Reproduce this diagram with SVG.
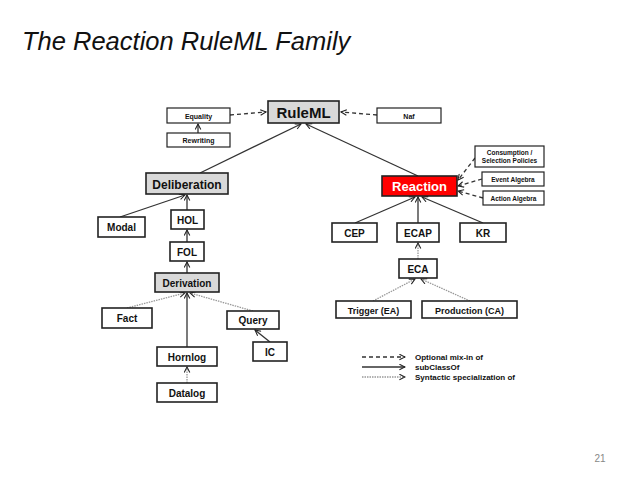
<svg xmlns="http://www.w3.org/2000/svg" width="638" height="478" viewBox="0 0 638 478">
<defs>
<marker id="a" viewBox="0 0 10 10" refX="9" refY="5" markerWidth="7" markerHeight="7" orient="auto" markerUnits="userSpaceOnUse"><path d="M1,1 L9,5 L1,9" fill="none" stroke="#222" stroke-width="1.5"/></marker>
</defs>
<style>
.b{fill:#fff;stroke:#222;stroke-width:1.6}
.g{fill:#d9d9d9;stroke:#222;stroke-width:1.6}
text{font-family:"Liberation Sans",Arial,sans-serif;font-weight:bold;text-anchor:middle;fill:#111}
.s{stroke:#333;stroke-width:1.3;fill:none;marker-end:url(#a)}
.d{stroke:#333;stroke-width:1.3;fill:none;stroke-dasharray:4,3;marker-end:url(#a)}
.o{stroke:#999;stroke-width:1.3;fill:none;stroke-dasharray:1.5,1;marker-end:url(#a)}
</style>
<rect width="638" height="478" fill="#fff"/>
<text x="22" y="50" style="font-weight:normal;font-style:italic;text-anchor:start;font-size:25.5px" fill="#111">The Reaction RuleML Family</text>
<text x="600" y="462" style="font-weight:normal;font-size:10px;fill:#888">21</text>
<g id="connectors">
<path class="s" d="M200,173 L301,124"/>
<path class="s" d="M418,176 L306,124"/>
<path class="d" d="M230,115 L266,112"/>
<path class="d" d="M377,115 L341,112"/>
<path class="s" d="M198,133 L198,124"/>
<path class="d" d="M475,158 L458,180"/>
<path class="d" d="M482,179 L458,186"/>
<path class="d" d="M483,198 L458,191"/>
<path class="s" d="M120,217 L185,195"/>
<path class="s" d="M187,210 L187,195"/>
<path class="s" d="M187,242 L187,230"/>
<path class="s" d="M187,273 L187,262"/>
<path class="o" d="M127,308 L185,293"/>
<path class="o" d="M253,311 L190,293"/>
<path class="s" d="M187,347 L187,293"/>
<path class="o" d="M187,383 L187,367"/>
<path class="s" d="M270,342 L255,330"/>
<path class="s" d="M355,223 L415,197"/>
<path class="s" d="M418,223 L418,197"/>
<path class="s" d="M483,223 L422,197"/>
<path class="o" d="M418,259 L418,243"/>
<path class="o" d="M373,301 L415,279"/>
<path class="o" d="M470,301 L421,279"/>
</g>
<g id="RuleML"><rect class="g" x="268" y="101" width="71" height="22"/><text x="303.5" y="118" font-size="15">RuleML</text></g>
<g id="Equality"><rect class="b" x="167" y="108" width="63" height="15" style="stroke-width:1.2"/><text x="198.5" y="119" font-size="7">Equality</text></g>
<g id="Rewriting"><rect class="b" x="167" y="133" width="63" height="14" style="stroke-width:1.2"/><text x="198.5" y="143" font-size="7">Rewriting</text></g>
<g id="Naf"><rect class="b" x="377" y="108" width="64" height="15" style="stroke-width:1.2"/><text x="409" y="119" font-size="7">Naf</text></g>
<g id="Deliberation"><rect class="g" x="146" y="173" width="82" height="21"/><text x="187" y="189" font-size="12">Deliberation</text></g>
<g id="Reaction"><rect x="382" y="176" width="75" height="20" fill="#f00" stroke="#222" stroke-width="1.6"/><text x="419.5" y="191" font-size="13" style="fill:#fff">Reaction</text></g>
<g id="Consumption"><rect class="b" x="475" y="146" width="69" height="21" style="stroke-width:1.2"/><text x="509.5" y="155" font-size="6.5">Consumption /</text><text x="509.5" y="163" font-size="6.5">Selection Policies</text></g>
<g id="EventAlgebra"><rect class="b" x="482" y="172" width="62" height="14" style="stroke-width:1.2"/><text x="513" y="182" font-size="6.5">Event Algebra</text></g>
<g id="ActionAlgebra"><rect class="b" x="483" y="191" width="61" height="14" style="stroke-width:1.2"/><text x="513.5" y="201" font-size="6.5">Action Algebra</text></g>
<g id="Modal"><rect class="b" x="98" y="217" width="47" height="20"/><text x="121.5" y="231" font-size="10">Modal</text></g>
<g id="HOL"><rect class="b" x="171" y="210" width="33" height="19"/><text x="187.5" y="224" font-size="10">HOL</text></g>
<g id="FOL"><rect class="b" x="170" y="242" width="34" height="19"/><text x="187" y="256" font-size="10">FOL</text></g>
<g id="Derivation"><rect class="g" x="155" y="273" width="64" height="19"/><text x="187" y="287" font-size="10">Derivation</text></g>
<g id="Fact"><rect class="b" x="102" y="308" width="50" height="20"/><text x="127" y="322" font-size="10">Fact</text></g>
<g id="Query"><rect class="b" x="227" y="311" width="52" height="18"/><text x="253" y="324" font-size="10">Query</text></g>
<g id="IC"><rect class="b" x="253" y="342" width="34" height="19"/><text x="270" y="356" font-size="10">IC</text></g>
<g id="Hornlog"><rect class="b" x="157" y="347" width="60" height="19"/><text x="187" y="361" font-size="10">Hornlog</text></g>
<g id="Datalog"><rect class="b" x="157" y="383" width="60" height="19"/><text x="187" y="397" font-size="10">Datalog</text></g>
<g id="CEP"><rect class="b" x="332" y="223" width="45" height="19"/><text x="354.5" y="237" font-size="10">CEP</text></g>
<g id="ECAP"><rect class="b" x="397" y="223" width="42" height="19"/><text x="418" y="237" font-size="10">ECAP</text></g>
<g id="KR"><rect class="b" x="460" y="223" width="46" height="19"/><text x="483" y="237" font-size="10">KR</text></g>
<g id="ECA"><rect class="b" x="399" y="259" width="38" height="19"/><text x="418" y="273" font-size="10">ECA</text></g>
<g id="Trigger"><rect class="b" x="336" y="301" width="75" height="17"/><text x="373.5" y="313.5" font-size="9">Trigger (EA)</text></g>
<g id="Production"><rect class="b" x="422" y="301" width="95" height="17"/><text x="469.5" y="313.5" font-size="9">Production (CA)</text></g>
<g id="legend">
<path class="d" d="M362,357 L405,357"/><path class="s" d="M362,367 L405,367"/><path class="o" d="M362,377 L405,377"/>
<text x="415" y="360" font-size="8" style="text-anchor:start">Optional mix-in of</text>
<text x="415" y="370" font-size="8" style="text-anchor:start">subClassOf</text>
<text x="415" y="380" font-size="8" style="text-anchor:start">Syntactic specialization of</text>
</g>
</svg>
